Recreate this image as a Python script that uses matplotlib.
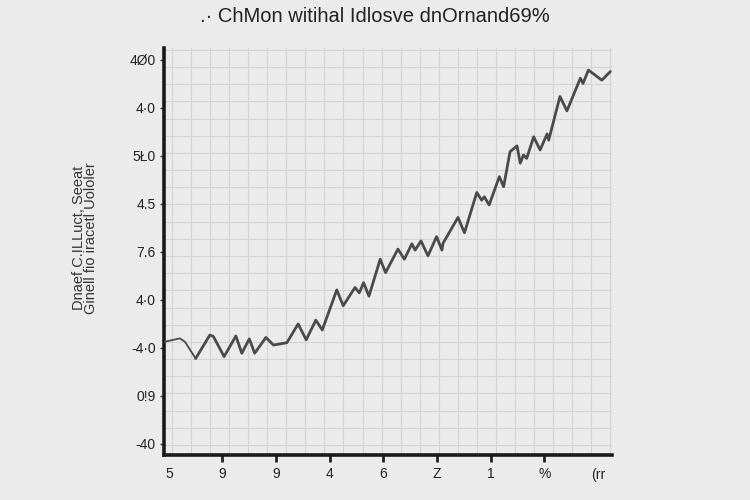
import numpy as np
import matplotlib
matplotlib.use("Agg")
import matplotlib.pyplot as plt

# ---- data ----
x_vals = [-0.075, 0.205, 0.30, 0.50, 0.765, 0.83, 1.03, 1.25, 1.36, 1.50, 1.60, 1.81, 1.95, 2.20,
          2.41, 2.56, 2.74, 2.86, 3.13, 3.25, 3.47, 3.55, 3.63, 3.73, 3.94, 4.04, 4.27, 4.39,
          4.53, 4.59, 4.70, 4.83, 4.99, 5.09, 5.11, 5.39, 5.51, 5.74, 5.83, 5.88, 5.97, 6.16,
          6.24, 6.36, 6.49, 6.55, 6.61, 6.67, 6.80, 6.92, 7.05, 7.08, 7.29, 7.42, 7.67, 7.72,
          7.82, 8.07, 8.23]
y_vals = [2.13, 2.20, 2.13, 1.78, 2.27, 2.24, 1.82, 2.25, 1.89, 2.19, 1.89, 2.22, 2.06, 2.11,
          2.50, 2.17, 2.58, 2.375, 3.21, 2.88, 3.26, 3.15, 3.36, 3.08, 3.85, 3.57, 4.06, 3.85,
          4.17, 4.04, 4.23, 3.92, 4.32, 4.04, 4.18, 4.72, 4.40, 5.24, 5.08, 5.15, 4.98, 5.57,
          5.36, 6.09, 6.21, 5.85, 6.02, 5.95, 6.40, 6.125, 6.46, 6.33, 7.24, 6.94, 7.62, 7.51,
          7.79, 7.58, 7.76]
y_tick_labels = ["-40", "0!9", "-4·0", "4·0", "7.6", "4.5", "5Ł0", "4·0", "4Ø0"]
x_tick_labels = ["5", "9", "9", "4", "6", "Z", "1", "%", "(rr"]
title = ".· ChMon witihal Idlosve dnOrnand69%"
y_label = "Dnaef C.ILLuct, Seeat\nGinell fio iracetl Uololer"

plt.rcParams['font.family'] = ['Liberation Sans', 'DejaVu Sans']
bg = "#ebebeb"
fig = plt.figure(figsize=(7.5, 5), dpi=100, facecolor=bg)
ax = fig.add_axes([164/750, 1-455/500, 448/750, 407/500], facecolor=bg)

ax.plot(x_vals[:4], y_vals[:4], color="#4a4a4a", lw=1.3, solid_joinstyle="round",
        solid_capstyle="round", zorder=3)
ax.plot(x_vals[3:], y_vals[3:], color="#4a4a4a", lw=2.0, solid_joinstyle="round",
        solid_capstyle="round", zorder=3)

ax.set_xlim(-0.09, 8.26)
ax.set_ylim(-0.23, 8.25)

ax.set_xticks(range(9))
ax.set_xticklabels(x_tick_labels, fontsize=10, color="#222222")
ax.set_yticks(range(9))
ax.set_yticklabels(y_tick_labels, fontsize=10, color="#222222")

ax.set_xticks(np.arange(0.06, 8.3, 0.355), minor=True)
ax.set_yticks(np.linspace(-0.02, 8.21, 24), minor=True)
ax.grid(which="minor", color="#d3d3d3", lw=0.8)
ax.grid(which="major", visible=False)
ax.tick_params(which="minor", length=0)
ax.tick_params(axis="x", which="major", length=5, width=2, color="#222222", pad=4)
ax.tick_params(axis="y", which="major", length=3, width=1, color="#333333", pad=3)
xt = ax.xaxis.get_major_ticks()
xt[0].tick1line.set_visible(False)
xt[-1].tick1line.set_visible(False)

for s in ["top", "right"]:
    ax.spines[s].set_visible(False)
ax.spines["left"].set_linewidth(2.6)
ax.spines["bottom"].set_linewidth(2.6)
ax.spines["left"].set_color("#1a1a1a")
ax.spines["bottom"].set_color("#1a1a1a")

fig.text(0.5, 1-17/500, title, ha="center", va="center", fontsize=14.5, color="#222222")
fig.text(85/750, 1-238/500, y_label, rotation=90, ha="center", va="center",
         fontsize=10.5, color="#333333", linespacing=0.85)

fig.savefig("out.png", dpi=100, facecolor=bg)
